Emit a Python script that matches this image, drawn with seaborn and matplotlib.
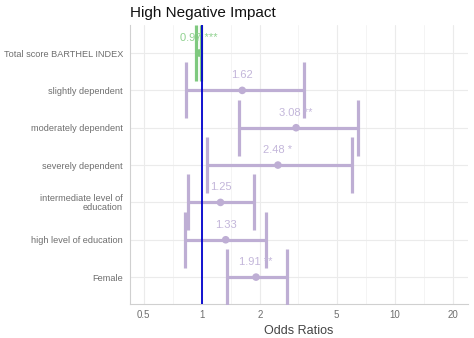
import matplotlib
matplotlib.use("Agg")
import matplotlib.pyplot as plt
import seaborn as sns
import pandas as pd
import numpy as np

terms = ["Total score BARTHEL INDEX", "slightly dependent", "moderately dependent",
         "severely dependent", "intermediate level of\neducation",
         "high level of education", "Female"]
estimates = [0.97, 1.62, 3.08, 2.48, 1.25, 1.33, 1.91]
ci_low = [0.935, 0.83, 1.55, 1.06, 0.85, 0.82, 1.35]
ci_high = [0.99, 3.38, 6.43, 5.99, 1.86, 2.15, 2.76]
labels = ["0.97 ***", "1.62", "3.08 **", "2.48 *", "1.25", "1.33", "1.91 **"]
groups = ["neg", "pos", "pos", "pos", "pos", "pos", "pos"]
x_ticks = [0.5, 1, 2, 5, 10, 20]
x_tick_labels = ["0.5", "1", "2", "5", "10", "20"]
minor_ticks = [0.707, 1.414, 3.162, 7.071, 14.14]

colors = {"neg": "#7FC97F", "pos": "#BEAED4"}
text_colors = {"neg": "#8fd18f", "pos": "#c3b6da"}

df = pd.DataFrame({"term": terms, "estimate": estimates, "low": ci_low,
                   "high": ci_high, "label": labels, "group": groups})
df["y"] = np.arange(len(df))

sns.set_theme(style="whitegrid")
plt.rcParams["font.family"] = ["Liberation Sans", "DejaVu Sans"]

fig = plt.figure(figsize=(4.74, 3.38), dpi=100)
ax = fig.add_axes([0.274, 0.1006, 0.713, 0.8254])
ax.set_facecolor("white")

ax.set_xscale("log")
ax.set_xlim(0.424, 23.9)
ax.set_ylim(6.72, -0.75)

for _, r in df.iterrows():
    c = colors[r.group]
    ax.errorbar(r.estimate, r.y,
                xerr=[[r.estimate - r.low], [r.high - r.estimate]],
                fmt="none", ecolor=c, elinewidth=2.3, capsize=20, capthick=2.3,
                zorder=3)
sns.scatterplot(data=df, x="estimate", y="y", hue="group", palette=colors,
                s=30, edgecolor="none", legend=False, ax=ax, zorder=4)

ax.axvline(1, color="#0000cc", lw=1.3, zorder=5)

for _, r in df.iterrows():
    ax.text(r.estimate, r.y - 0.27, r.label, ha="center", va="bottom",
            fontsize=8, color=text_colors[r.group], zorder=3)

ax.set_xticks(x_ticks)
ax.set_xticklabels(x_tick_labels)
ax.set_xticks(minor_ticks, minor=True)
ax.xaxis.set_minor_formatter(matplotlib.ticker.NullFormatter())
ax.set_yticks(df["y"])
ax.set_yticklabels(terms)
ax.grid(True, which="major", color="#ebebeb", lw=0.8)
ax.grid(True, which="minor", axis="x", color="#f2f2f2", lw=0.6)
ax.tick_params(axis="x", which="both", length=0, labelsize=7, colors="#6e6e6e", pad=4)
ax.tick_params(axis="y", which="both", length=0, labelsize=6.6, colors="#6e6e6e", pad=5)
for lbl in ax.get_yticklabels():
    lbl.set_linespacing(0.95)

for s in ["top", "right"]:
    ax.spines[s].set_visible(False)
for s in ["left", "bottom"]:
    ax.spines[s].set_visible(True)
    ax.spines[s].set_color("#d0d0d0")
    ax.spines[s].set_linewidth(0.8)

ax.set_xlabel("Odds Ratios", fontsize=9, color="#444444", labelpad=4)
ax.set_ylabel("")
ax.set_title("High Negative Impact", loc="left", fontsize=11, color="#111111", pad=6)

fig.savefig("out.png", dpi=100)
